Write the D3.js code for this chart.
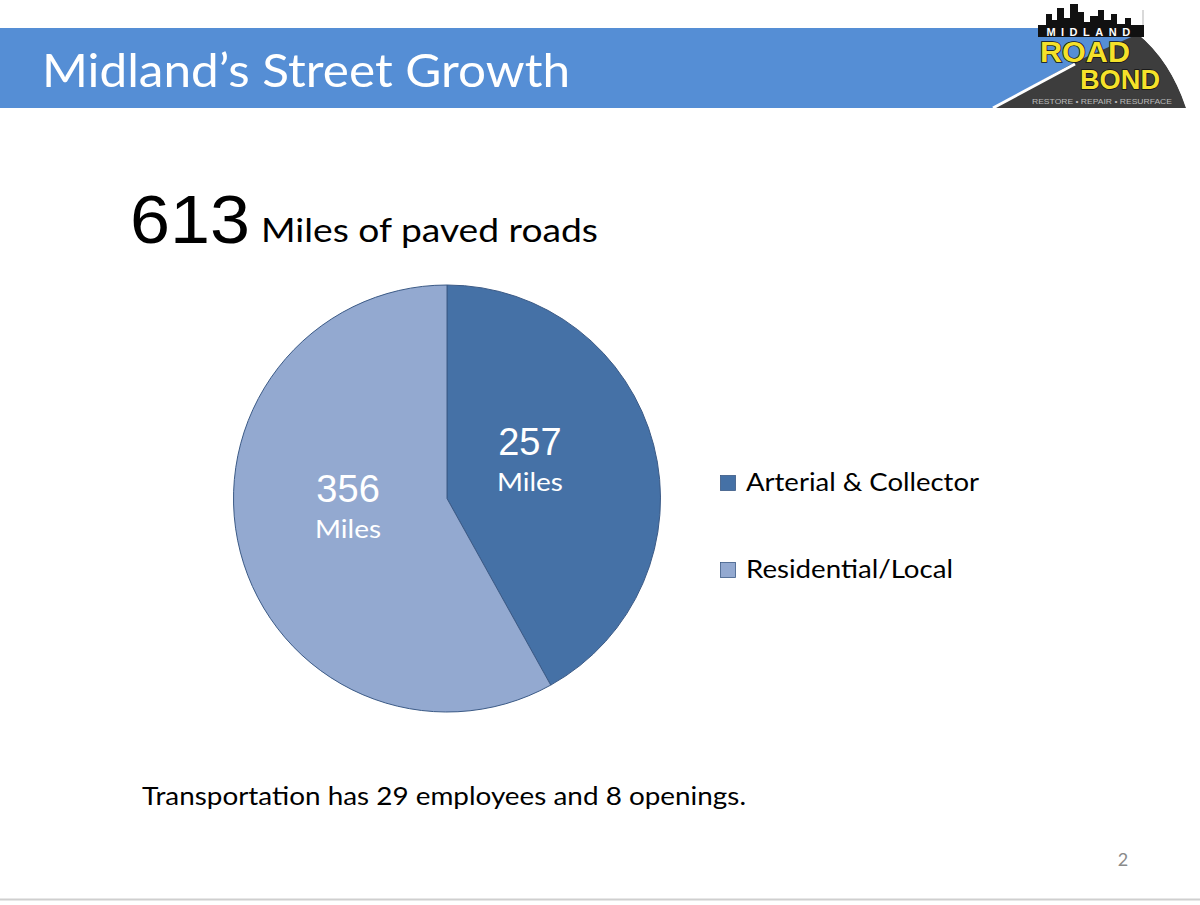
<!DOCTYPE html>
<html>
<head>
<meta charset="utf-8">
<script src="https://cdn.jsdelivr.net/npm/d3@7"></script>
<style>
  body { margin:0; background:#fff; }
  svg { display:block; }
</style>
</head>
<body>
<div id="content"></div>
<script>
// data
const categories = ["Arterial & Collector", "Residential/Local"];
const miles = [257, 356];
const totalMiles = 613;
const unitLabel = "Miles";

const W = 1200, H = 905;
const sans = "Lato, 'Open Sans', sans-serif";
const arial = "'Liberation Sans', Arial, sans-serif";

const svg = d3.select("#content").append("svg")
    .attr("width", W).attr("height", H);

svg.append("rect").attr("width", W).attr("height", H).attr("fill", "#fff");

//////////////////// title bar
svg.append("rect")
    .attr("x", 0).attr("y", 28).attr("width", 1140).attr("height", 80)
    .attr("fill", "#558ed5");
svg.append("text")
    .attr("x", 42).attr("y", 87)
    .attr("fill", "#fff")
    .attr("font-family", sans).attr("font-size", 47)
    .attr("textLength", 528).attr("lengthAdjust", "spacingAndGlyphs")
    .text("Midland\u2019s Street Growth");

//////////////////// logo (rough)
const logo = svg.append("g");
logo.append("path")
    .attr("d", "M993,108 L1075,62 L1138,34 Q1170,60 1186,108 Z")
    .attr("fill", "#3d3d3d");
logo.append("path")
    .attr("d", "M993,108 L1075,64")
    .attr("stroke", "#fff").attr("stroke-width", 3);
logo.append("path")
    .attr("d", "M1138,32 Q1172,60 1188,108")
    .attr("stroke", "#fff").attr("stroke-width", 3).attr("fill", "none");
// skyline
const skyline = [[1046,14,6],[1052,20,5],[1057,8,7],[1064,18,6],[1070,4,8],[1078,12,6],[1084,22,6],[1090,16,8],[1098,10,6],[1104,20,7],[1111,14,6],[1117,24,8],[1125,18,6]];
logo.selectAll(".bld").data(skyline).enter().append("rect")
    .attr("x", d => d[0]).attr("y", d => d[1]).attr("width", d => d[2])
    .attr("height", d => 30 - d[1]).attr("fill", "#111");
logo.append("line").attr("x1", 1143).attr("y1", 30).attr("x2", 1143).attr("y2", 10)
    .attr("stroke", "#ccc").attr("stroke-width", 1.5);
logo.append("rect").attr("x", 1038).attr("y", 25).attr("width", 106).attr("height", 12).attr("fill", "#111");
logo.append("text").attr("x", 1091).attr("y", 35.5).attr("text-anchor", "middle")
    .attr("fill", "#fff").attr("font-family", arial).attr("font-weight", "bold")
    .attr("font-size", 11).attr("letter-spacing", 5.5).text("MIDLAND");
logo.append("text").attr("x", 1085).attr("y", 62).attr("text-anchor", "middle")
    .attr("fill", "#f5e12a").attr("stroke", "#111").attr("stroke-width", 1.5)
    .attr("paint-order", "stroke")
    .attr("font-family", arial).attr("font-weight", "bold").attr("font-size", 29)
    .attr("textLength", 90).attr("lengthAdjust", "spacingAndGlyphs").text("ROAD");
logo.append("text").attr("x", 1120).attr("y", 89).attr("text-anchor", "middle")
    .attr("fill", "#f5e12a").attr("stroke", "#111").attr("stroke-width", 1.5)
    .attr("paint-order", "stroke")
    .attr("font-family", arial).attr("font-weight", "bold").attr("font-size", 27)
    .attr("textLength", 80).attr("lengthAdjust", "spacingAndGlyphs").text("BOND");
logo.append("text").attr("x", 1102).attr("y", 104).attr("text-anchor", "middle")
    .attr("fill", "#bbb").attr("font-family", arial).attr("font-size", 7)
    .attr("textLength", 140).attr("lengthAdjust", "spacingAndGlyphs")
    .text("RESTORE \u2022 REPAIR \u2022 RESURFACE");

//////////////////// heading
svg.append("text")
    .attr("x", 130).attr("y", 243)
    .attr("font-family", arial).attr("font-size", 68).attr("fill", "#000")
    .attr("textLength", 120).attr("lengthAdjust", "spacingAndGlyphs")
    .text(totalMiles);
svg.append("text")
    .attr("x", 261).attr("y", 242)
    .attr("font-family", sans).attr("font-size", 33).attr("fill", "#000")
    .attr("textLength", 337).attr("lengthAdjust", "spacingAndGlyphs")
    .text("Miles of paved roads");

//////////////////// pie
const cx = 447, cy = 498.5, r = 213.5;
const color = d3.scaleOrdinal().domain(categories).range(["#4571a6", "#93a9d0"]);

const pieData = categories.map((c, i) => ({ name: c, value: miles[i] }));
const pie = d3.pie().value(d => d.value).sort(null);
const arc = d3.arc().innerRadius(0).outerRadius(r);

const g = svg.append("g").attr("transform", `translate(${cx},${cy})`);
const arcs = pie(pieData);
g.selectAll("path").data(arcs).enter().append("path")
    .attr("d", arc)
    .attr("fill", d => color(d.data.name))
    .attr("stroke", "#3b5a86").attr("stroke-width", 1);

const labelArc = d3.arc().innerRadius(r * 0.44).outerRadius(r * 0.44);
const labels = g.selectAll(".lbl").data(arcs).enter().append("g")
    .attr("transform", d => {
        const [x, y] = labelArc.centroid(d);
        return `translate(${x - 8},${y})`;
    });
labels.append("text")
    .attr("text-anchor", "middle").attr("y", -20)
    .attr("fill", "#fff").attr("font-family", arial).attr("font-size", 38)
    .text(d => d.value);
labels.append("text")
    .attr("text-anchor", "middle").attr("y", 16)
    .attr("fill", "#fff").attr("font-family", sans).attr("font-size", 25)
    .attr("textLength", 66).attr("lengthAdjust", "spacingAndGlyphs")
    .text(unitLabel);

//////////////////// legend
const legend = svg.append("g").attr("transform", "translate(720,475)");
const legendWidths = [233, 207];
const item = legend.selectAll(".item").data(categories).enter().append("g")
    .attr("transform", (d, i) => `translate(0,${i * 87})`);
item.append("rect")
    .attr("x", 0.5).attr("y", 0.5).attr("width", 15).attr("height", 15)
    .attr("fill", d => color(d)).attr("stroke", "#3b5a86").attr("stroke-width", 0.8);
item.append("text")
    .attr("x", 26).attr("y", 16)
    .attr("font-family", sans).attr("font-size", 25).attr("fill", "#000")
    .attr("textLength", (d, i) => legendWidths[i]).attr("lengthAdjust", "spacingAndGlyphs")
    .text(d => d);

//////////////////// footnote
svg.append("text")
    .attr("x", 142).attr("y", 805)
    .attr("font-family", sans).attr("font-size", 25).attr("fill", "#000")
    .attr("textLength", 604).attr("lengthAdjust", "spacingAndGlyphs")
    .text("Transportation has 29 employees and 8 openings.");

svg.append("text")
    .attr("x", 1123).attr("y", 866).attr("text-anchor", "middle")
    .attr("font-family", sans).attr("font-size", 18).attr("fill", "#8a8a8a")
    .text("2");

svg.append("line")
    .attr("x1", 0).attr("x2", W).attr("y1", 899.5).attr("y2", 899.5)
    .attr("stroke", "#cfcfcf").attr("stroke-width", 2);
</script>
</body>
</html>
